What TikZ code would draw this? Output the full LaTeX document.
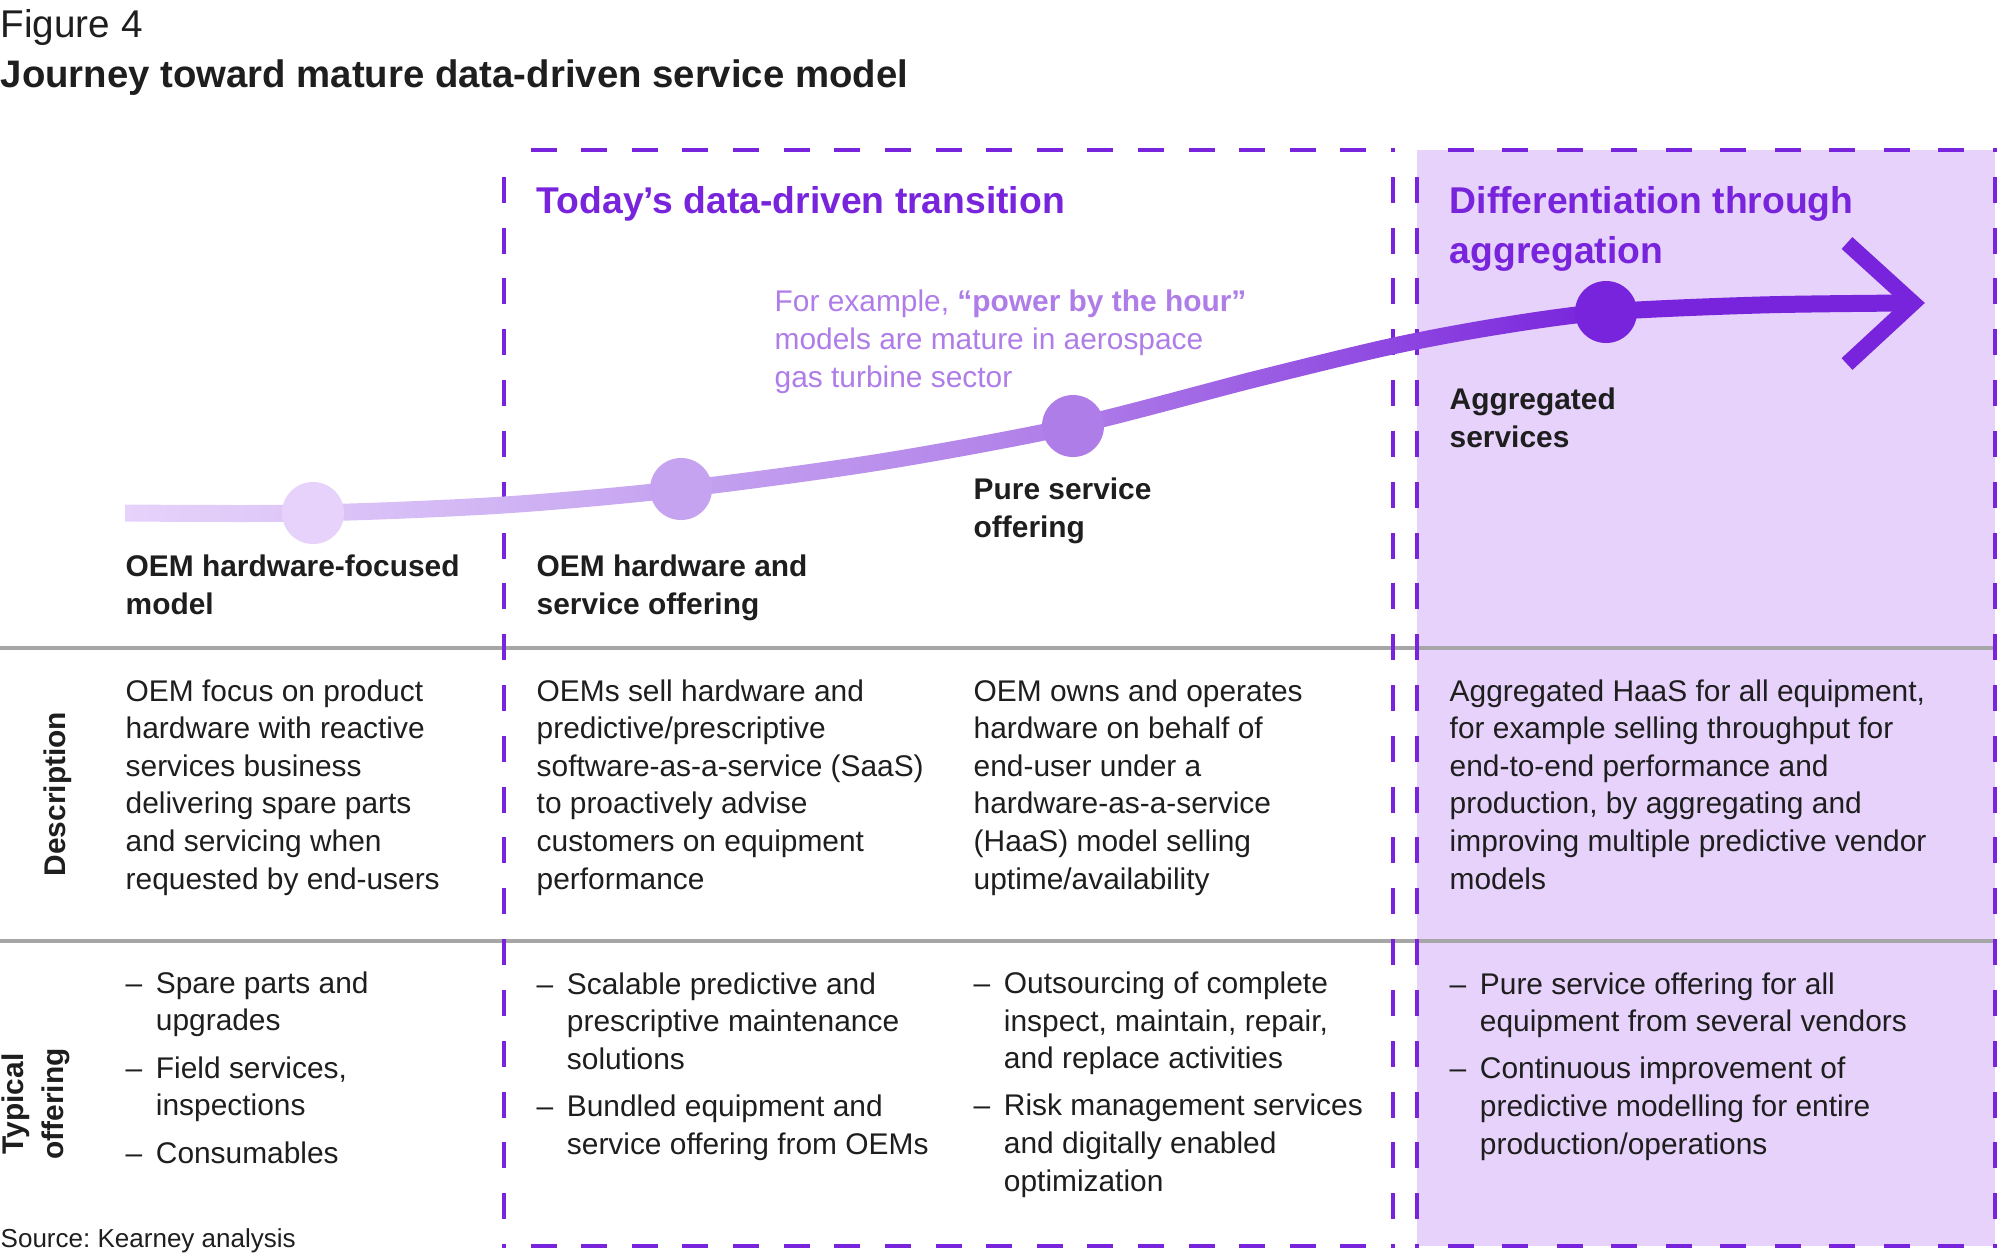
\documentclass[tikz,border=0pt]{standalone}
\usepackage{fontspec}
\setmainfont{Liberation Sans}
\usetikzlibrary{positioning,decorations}
\definecolor{kpurple}{HTML}{7823DC}
\definecolor{klav}{HTML}{E6D2FA}
\definecolor{kstepa}{HTML}{DDC6F8}
\definecolor{kstepb}{HTML}{C5A3F0}
\definecolor{kstepc}{HTML}{AF7DE8}
\definecolor{krule}{HTML}{A6A6A6}
\definecolor{kink}{HTML}{1E1E1E}
\pgfdeclarehorizontalshading{journey}{100bp}{color(0bp)=(klav); color(25bp)=(klav); color(30.3bp)=(kstepa); color(40.6bp)=(kstepb); color(51.6bp)=(kstepc); color(66.6bp)=(kpurple); color(100bp)=(kpurple)}
\newcommand\dashitem{\makebox[8.6pt][l]{–}}
\newcommand\dashcont{\hspace*{8.6pt}}

\begin{document}
\frenchspacing
\begin{tikzpicture}[x=0.01cm, y=-0.01cm,
  body/.style={anchor=base west, inner sep=0pt, align=left, text=kink, font=\fontsize{8.5}{10.67}\selectfont},
  stage/.style={body, font=\bfseries\fontsize{8.5}{10.53}\selectfont},
  phase/.style={anchor=base west, inner sep=0pt, align=left, text=kpurple, font=\bfseries\fontsize{10.6}{14.2}\selectfont},
  milestone/.style={circle, inner sep=0pt, minimum size=0.62cm},
  rowlabel/.style={rotate=90, inner sep=0pt, align=center, text=kink, font=\bfseries\fontsize{8.5}{11.4}\selectfont},
  zone/.style={kpurple, line width=0.04cm, dash pattern=on 0.22cm off 0.28cm, dash expand off, line cap=rect},
  divider/.style={krule, line width=0.04cm}]
\useasboundingbox (0,0) rectangle (2000,1254);

% zones
\coordinate (z1nw) at (504,150);  \coordinate (z1ne) at (1393,150);
\coordinate (z1sw) at (504,1246); \coordinate (z1se) at (1393,1246);
\coordinate (z2nw) at (1417,150); \coordinate (z2ne) at (1995,150);
\coordinate (z2sw) at (1417,1246); \coordinate (z2se) at (1995,1246);
\fill[klav] (z2nw) rectangle (z2se);
\draw[divider] (0,648) -- (1995,648);
\draw[divider] (0,941) -- (1995,941);
\foreach \a/\b in {z1nw/z1ne, z1ne/z1se, z1nw/z1sw, z1sw/z1se,
                   z2nw/z2ne, z2ne/z2se, z2nw/z2sw, z2sw/z2se}
  \draw[zone] (\a) -- (\b);

% journey line
\shade[shading=journey]
  plot[smooth] coordinates {(125,504.5) (313,504.5) (504,496.5) (681,480.5) (880,453.5) (1073,417.5) (1256,370.5) (1393,337.5) (1500,317.5) (1606,303.5) (1760,296.5) (1905,294.5)}
  -- plot[smooth] coordinates {(1905,311.5) (1760,313.5) (1606,320.5) (1500,334.5) (1393,354.5) (1256,387.5) (1073,434.5) (880,470.5) (681,497.5) (504,513.5) (313,521.5) (125,521.5)}
  -- cycle;
\coordinate (tipup) at (1847,243);
\coordinate (tip) at (1913,303);
\coordinate (tipdn) at (1847,364);
\draw[kpurple, line width=0.16cm] (tipup) -- (tip) -- (tipdn);

\node[milestone, fill=klav] (oem) at (313,513) {};
\node[milestone, fill=kstepb] (hybrid) at (681,489) {};
\node[milestone, fill=kstepc] (pure) at (1073,426) {};
\node[milestone, fill=kpurple] (aggr) at (1606,312) {};

% titles (base = last line)
\node[anchor=base west, inner sep=0pt, text=kink, font=\fontsize{11}{13}\selectfont] (fig) at (0,37) {Figure 4};
\node[anchor=base west, inner sep=0pt, text=kink, font=\bfseries\fontsize{10.9}{13}\selectfont] (title) at (0,87) {Journey toward mature data-driven service model};
\node[phase] (today) at (536,213) {Today’s data-driven transition};
\node[phase] (diff) at (1449,263) {Differentiation through\\aggregation};
\node[body, text=kstepc] (note) at (774,387) {For example, \textbf{“power by the hour”}\\models are mature in aerospace\\gas turbine sector};

% stages
\node[stage] (oemlab) at (125,614) {OEM hardware-focused\\model};
\node[stage] (hybridlab) at (536,614) {OEM hardware and\\service offering};
\node[stage] (purelab) at (973,537) {Pure service\\offering};
\node[stage] (aggrlab) at (1449,447) {Aggregated\\services};

% description row
\node[rowlabel] (desclab) at (58,794) {Description};
\node[body] (desc1) at (125,889) {OEM focus on product\\hardware with reactive\\services business\\delivering spare parts\\and servicing when\\requested by end-users};
\node[body] (desc2) at (536,889) {OEMs sell hardware and\\predictive/prescriptive\\software-as-a-service (SaaS)\\to proactively advise\\customers on equipment\\performance};
\node[body] (desc3) at (973,889) {OEM owns and operates\\hardware on behalf of\\end-user under a\\hardware-as-a-service\\(HaaS) model selling\\uptime/availability};
\node[body] (desc4) at (1449,889) {Aggregated HaaS for all equipment,\\for example selling throughput for\\end-to-end performance and\\production, by aggregating and\\improving multiple predictive vendor\\models};

% typical offering row
\node[rowlabel] (offlab) at (36,1104) {Typical\\offering};
\node[body] (off1) at (125,1163) {\dashitem Spare parts and\\\dashcont upgrades\\[2.8pt]\dashitem Field services,\\\dashcont inspections\\[2.8pt]\dashitem Consumables};
\node[body] (off2) at (536,1154) {\dashitem Scalable predictive and\\\dashcont prescriptive maintenance\\\dashcont solutions\\[2.8pt]\dashitem Bundled equipment and\\\dashcont service offering from OEMs};
\node[body] (off3) at (973,1191) {\dashitem Outsourcing of complete\\\dashcont inspect, maintain, repair,\\\dashcont and replace activities\\[2.8pt]\dashitem Risk management services\\\dashcont and digitally enabled\\\dashcont optimization};
\node[body] (off4) at (1449,1154) {\dashitem Pure service offering for all\\\dashcont equipment from several vendors\\[2.8pt]\dashitem Continuous improvement of\\\dashcont predictive modelling for entire\\\dashcont production/operations};

\node[anchor=base west, inner sep=0pt, text=kink, font=\fontsize{7.4}{9}\selectfont] (src) at (0,1247) {Source: Kearney analysis};
\end{tikzpicture}
\end{document}
